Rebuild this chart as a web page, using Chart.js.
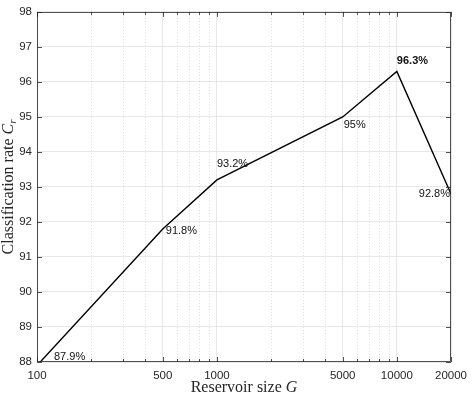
<!DOCTYPE html>
<html><head><meta charset="utf-8">
<script src="https://cdn.jsdelivr.net/npm/chart.js@4.4.1/dist/chart.umd.min.js"></script>
<style>html,body{margin:0;padding:0;background:#fff}#wrap{width:474px;height:397px;position:relative}</style>
</head><body><div id="wrap"><canvas id="c"></canvas></div>
<script>
// ---- data ----
const reservoirSizes = [100, 500, 1000, 5000, 10000, 20000];
const classificationRates = [87.9, 91.8, 93.2, 95, 96.3, 92.8];
const xTickValues = [100, 500, 1000, 5000, 10000, 20000];
const xMinorTickValues = [200, 300, 400, 600, 700, 800, 900, 2000, 3000, 4000, 6000, 7000, 8000, 9000];
const yTickValues = [88, 89, 90, 91, 92, 93, 94, 95, 96, 97, 98];
const xTitleText = 'Reservoir size ';
const xTitleVar = 'G';
const yTitleText = 'Classification rate ';
const yTitleVar = 'C';
const yTitleSub = 'r';
const peakIndex = 4;

// ---- label placement (pixel offsets from each point; style only) ----
const labelOffsets = [[17, -9], [3, 2], [0, -16], [1, 8], [0, -10], [-1, 0]];
const labelAligns = ['left', 'left', 'left', 'left', 'left', 'right'];

const AX = '#262626';
const sansFont = '"Liberation Sans", Arial, Helvetica, sans-serif';
const serifFont = '"Liberation Serif", "Times New Roman", serif';

const matlabAxes = {
  id: 'matlabAxes',
  beforeDatasetsDraw(chart) {
    const { ctx, chartArea: a, scales: { x } } = chart;
    ctx.save();
    ctx.strokeStyle = 'rgba(38,38,38,0.22)';
    ctx.lineWidth = 0.7;
    ctx.setLineDash([1, 2]);
    xMinorTickValues.forEach(v => {
      const px = Math.round(x.getPixelForValue(v)) + 0.5;
      ctx.beginPath(); ctx.moveTo(px, a.top); ctx.lineTo(px, a.bottom); ctx.stroke();
    });
    ctx.restore();
  },
  afterDatasetsDraw(chart) {
    const { ctx, chartArea: a, scales: { x, y } } = chart;
    ctx.save();
    ctx.strokeStyle = AX;
    ctx.lineWidth = 0.8;
    ctx.strokeRect(a.left + 0.5, a.top + 0.5, a.right - a.left - 1, a.bottom - a.top - 1);
    const tick = (px, len, vertical) => {
      ctx.beginPath();
      if (vertical) {
        ctx.moveTo(px, a.bottom); ctx.lineTo(px, a.bottom - len);
        ctx.moveTo(px, a.top); ctx.lineTo(px, a.top + len);
      } else {
        ctx.moveTo(a.left, px); ctx.lineTo(a.left + len, px);
        ctx.moveTo(a.right, px); ctx.lineTo(a.right - len, px);
      }
      ctx.stroke();
    };
    xTickValues.forEach(v => tick(Math.round(x.getPixelForValue(v)) + 0.5, 5, true));
    xMinorTickValues.forEach(v => tick(Math.round(x.getPixelForValue(v)) + 0.5, 3, true));
    yTickValues.forEach(v => tick(Math.round(y.getPixelForValue(v)) + 0.5, 5, false));

    // data labels
    ctx.fillStyle = '#111';
    ctx.textBaseline = 'middle';
    reservoirSizes.forEach((g, i) => {
      const px = x.getPixelForValue(g), py = y.getPixelForValue(classificationRates[i]);
      ctx.font = (i === peakIndex ? 'bold ' : '') + '11px ' + sansFont;
      ctx.textAlign = labelAligns[i];
      ctx.fillText(classificationRates[i] + '%', px + labelOffsets[i][0], py + labelOffsets[i][1]);
    });
    ctx.restore();
  },
  afterDraw(chart) {
    const { ctx, chartArea: a } = chart;
    ctx.save();
    ctx.fillStyle = AX;
    ctx.textBaseline = 'alphabetic';
    ctx.textAlign = 'left';
    // x title
    const nf = '16px ' + serifFont, itf = 'italic 16px ' + serifFont, sf = 'italic 11px ' + serifFont;
    ctx.font = nf; const w1 = ctx.measureText(xTitleText).width;
    ctx.font = itf; const w2 = ctx.measureText(xTitleVar).width;
    let sx = (a.left + a.right) / 2 - (w1 + w2) / 2;
    ctx.font = nf; ctx.fillText(xTitleText, sx, 392);
    ctx.font = itf; ctx.fillText(xTitleVar, sx + w1, 392);
    // y title
    ctx.font = nf; const v1 = ctx.measureText(yTitleText).width;
    ctx.font = itf; const v2 = ctx.measureText(yTitleVar).width;
    ctx.font = sf; const v3 = ctx.measureText(yTitleSub).width;
    ctx.translate(13, (a.top + a.bottom) / 2);
    ctx.rotate(-Math.PI / 2);
    const tot = v1 + v2 + v3;
    let tx = -tot / 2;
    ctx.font = nf; ctx.fillText(yTitleText, tx, 0);
    ctx.font = itf; ctx.fillText(yTitleVar, tx + v1, 0);
    ctx.font = sf; ctx.fillText(yTitleSub, tx + v1 + v2, 3);
    ctx.restore();
  }
};

new Chart(document.getElementById('c'), {
  type: 'line',
  data: {
    datasets: [{
      data: reservoirSizes.map((g, i) => ({ x: g, y: classificationRates[i] })),
      borderColor: '#000',
      borderWidth: 1.4,
      pointRadius: 0,
      tension: 0,
      fill: false
    }]
  },
  options: {
    animation: false,
    responsive: true,
    maintainAspectRatio: false,
    layout: { padding: { top: 5, right: 15, left: 0, bottom: 0 } },
    plugins: { legend: { display: false }, tooltip: { enabled: false } },
    scales: {
      x: {
        type: 'logarithmic',
        min: 100, max: 20000,
        afterBuildTicks: s => { s.ticks = xTickValues.map(v => ({ value: v })); },
        afterFit: s => { s.height = 35; },
        ticks: {
          autoSkip: false, maxRotation: 0, padding: 7,
          color: AX, font: { family: sansFont, size: 11.5 },
          callback: v => String(v)
        },
        grid: { color: '#dedede', lineWidth: 0.7, drawTicks: false },
        border: { display: false }
      },
      y: {
        min: 88, max: 98,
        afterBuildTicks: s => { s.ticks = yTickValues.map(v => ({ value: v })); },
        afterFit: s => { s.width = 37; },
        ticks: {
          padding: 5, color: AX, font: { family: sansFont, size: 11.5 },
          callback: v => String(v)
        },
        grid: { color: '#dedede', lineWidth: 0.7, drawTicks: false },
        border: { display: false }
      }
    }
  },
  plugins: [matlabAxes]
});
</script>
</body></html>
